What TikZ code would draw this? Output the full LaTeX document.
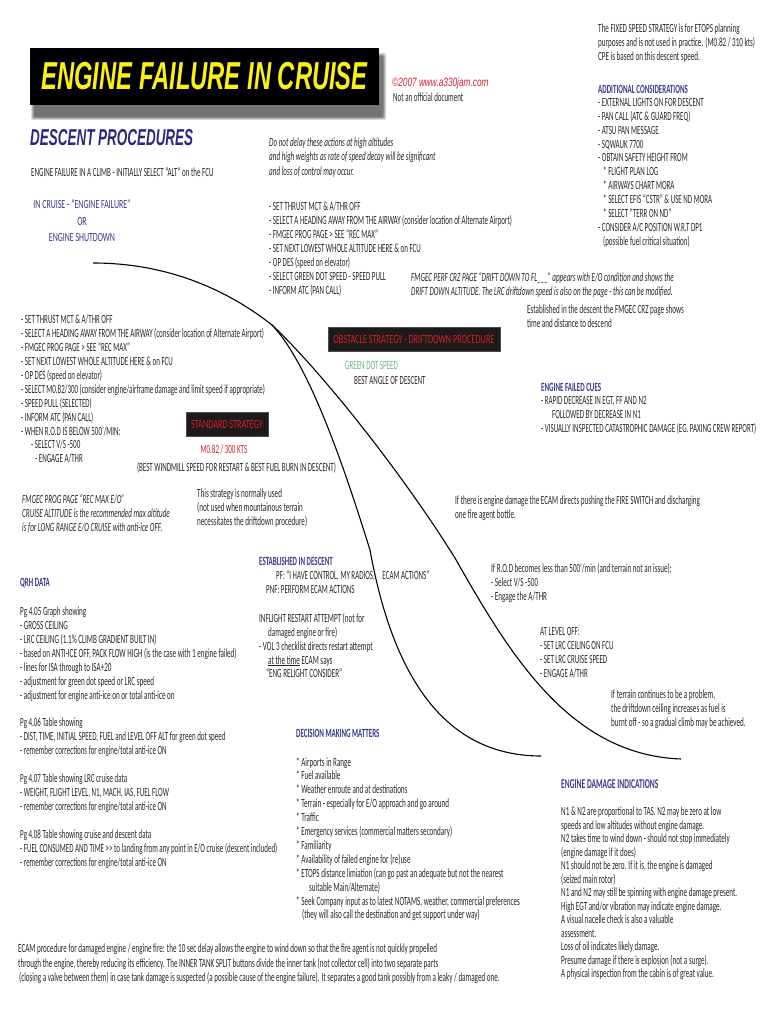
\documentclass[tikz,border=0pt]{standalone}
\usepackage{fontspec}
\usepackage{tikz}
\setmainfont[FakeStretch=0.558]{Carlito}
\newfontfamily\lowerfont[FakeStretch=0.568]{Carlito}
\newfontfamily\strategyfont[FakeStretch=0.66]{Carlito}
\newfontfamily\cruisefont[FakeStretch=0.63]{Carlito}
\newfontfamily\titlefont[FakeStretch=0.61]{Liberation Sans}
\newfontfamily\headfont[FakeStretch=0.585]{Liberation Sans}
\newfontfamily\webfont[FakeStretch=0.69]{Liberation Sans}
\definecolor{navyhead}{RGB}{40,40,130}
\definecolor{bluetxt}{RGB}{55,55,140}
\definecolor{redtxt}{RGB}{215,30,45}
\definecolor{greentxt}{RGB}{110,180,135}
\definecolor{boxblack}{RGB}{30,26,26}
\definecolor{titleyellow}{RGB}{250,240,20}
\tikzset{
    txt/.style={anchor=north west, inner sep=0pt, align=left, text=black!85, font=\fontsize{12.5}{13.9}\selectfont},
    lowtxt/.style={txt, font=\lowerfont\fontsize{12.5}{13.9}\selectfont},
    itxt/.style={txt, font=\lowerfont\itshape\fontsize{12.5}{14.1}\selectfont},
    txtc/.style={txt, anchor=center, align=center},
    blue head/.style={txt, text=bluetxt, font=\bfseries\fontsize{12.5}{13.9}\selectfont},
    strategy/.style={fill=boxblack, draw=black!70, text=redtxt, inner sep=0pt, minimum height=24pt, font=\strategyfont\fontsize{12.5}{14}\selectfont},
    curve/.style={line width=1.1pt, black}
}

\begin{document}
\begin{tikzpicture}[x=1pt, y=-1pt]
    \useasboundingbox (0,0) rectangle (768,1024);

    % title banner
    \foreach \k/\o in {3/0.2, 2/0.25, 1/0.3, 0/0.35}
        \fill[black!75, opacity=\o, rounded corners=2pt] (34-\k,56-\k) rectangle (383+\k,117+\k);
    \node[fill=black, inner sep=0pt, minimum width=349pt, minimum height=57pt, text=titleyellow] (title) at (204.5,76.5)
        {\titlefont\bfseries\itshape\fontsize{39}{39}\selectfont ENGINE FAILURE IN CRUISE};
    \node[txt, anchor=west, text=redtxt] (web) at (392,83) {\webfont\itshape\fontsize{12}{14}\selectfont ©2007 www.a330jam.com};
    \node[txt] (official) at (393,93) {Not an official document};

    \node[txt, anchor=north west, text=navyhead] (descent) at (30,129)
        {\headfont\bfseries\itshape\fontsize{23}{23}\selectfont DESCENT PROCEDURES};
    \node[txt] (climb) at (31,167) {ENGINE FAILURE IN A CLIMB - INITIALLY SELECT “ALT” on the FCU};
    \node[txtc, text=bluetxt, font=\cruisefont\fontsize{12.5}{16.5}\selectfont] (cruise) at (82,221) {IN CRUISE - “ENGINE FAILURE”\\OR\\ENGINE SHUTDOWN};

    % top right notes
    \node[lowtxt] (fixed) at (598,24) {The FIXED SPEED STRATEGY is for ETOPS planning\\purposes and is not used in practice. (M0.82 / 310 kts)\\CPE is based on this descent speed.};
    \node[blue head] (addhead) at (598,85) {ADDITIONAL CONSIDERATIONS};
    \node[txt] (additional) at (598,98) {- EXTERNAL LIGHTS ON FOR DESCENT\\
        - PAN CALL (ATC \& GUARD FREQ)\\
        - ATSU PAN MESSAGE\\
        - SQWAUK 7700\\
        - OBTAIN SAFETY HEIGHT FROM\\
        \hspace*{5pt}* FLIGHT PLAN LOG\\
        \hspace*{5pt}* AIRWAYS CHART MORA\\
        \hspace*{5pt}* SELECT EFIS “CSTR” \& USE ND MORA\\
        \hspace*{5pt}* SELECT “TERR ON ND”\\
        - CONSIDER A/C POSITION W.R.T DP1\\
        \hspace*{5pt}(possible fuel critical situation)};

    % centre top
    \node[itxt] (nodelay) at (269,138) {Do not delay these actions at high altitudes\\and high weights as rate of speed decay will be significant\\and loss of control may occur.};
    \node[txt] (driftlist) at (269,202) {- SET THRUST MCT \& A/THR OFF\\
        - SELECT A HEADING AWAY FROM THE AIRWAY (consider location of Alternate Airport)\\
        - FMGEC PROG PAGE > SEE “REC MAX”\\
        - SET NEXT LOWEST WHOLE ALTITUDE HERE \& on FCU\\
        - OP DES (speed on elevator)\\
        - SELECT GREEN DOT SPEED - SPEED PULL\\
        - INFORM ATC (PAN CALL)};
    \node[itxt] (perfcrz) at (411,272) {FMGEC PERF CRZ PAGE “DRIFT DOWN TO FL\_\_\_” appears with E/O condition and shows the\\DRIFT DOWN ALTITUDE. The LRC driftdown speed is also on the page - this can be modified.};
    \node[lowtxt] (established) at (527,305) {Established in the descent the FMGEC CRZ page shows\\time and distance to descend};

    % obstacle strategy
    \node[strategy, minimum width=172pt] (obstacle) at (414,339) {OBSTACLE STRATEGY - DRIFTDOWN PROCEDURE};
    \node[txt, text=greentxt] (green) at (345,361) {GREEN DOT SPEED};
    \node[txt] (angle) at (354,376) {BEST ANGLE OF DESCENT};
    \node[blue head] (cueshead) at (541,383) {ENGINE FAILED CUES};
    \node[txt] (cues) at (541,396) {- RAPID DECREASE IN EGT, FF AND N2\\
        \hspace*{11pt}FOLLOWED BY DECREASE IN N1\\
        - VISUALLY INSPECTED CATASTROPHIC DAMAGE (EG. PAXING CREW REPORT)};

    % standard strategy
    \node[txt] (stdlist) at (21,315) {- SET THRUST MCT \& A/THR OFF\\
        - SELECT A HEADING AWAY FROM THE AIRWAY (consider location of Alternate Airport)\\
        - FMGEC PROG PAGE > SEE “REC MAX”\\
        - SET NEXT LOWEST WHOLE ALTITUDE HERE \& on FCU\\
        - OP DES (speed on elevator)\\
        - SELECT M0.82/300 (consider engine/airframe damage and limit speed if appropriate)\\
        - SPEED PULL (SELECTED)\\
        - INFORM ATC (PAN CALL)\\
        - WHEN R.O.D IS BELOW 500’/MIN:\\
        \hspace*{10pt}- SELECT V/S -500\\
        \hspace*{14pt}- ENGAGE A/THR};
    \node[strategy, minimum width=82pt] (standard) at (227,424.5) {STANDARD STRATEGY};
    \node[txtc, text=redtxt] (mach) at (224,449) {M0.82 / 300 KTS};
    \node[txtc] (windmill) at (236.5,468) {(BEST WINDMILL SPEED FOR RESTART \& BEST FUEL BURN IN DESCENT)};
    \node[itxt] (recmax) at (22,494) {FMGEC PROG PAGE “REC MAX E/O”\\CRUISE ALTITUDE is the recommended max altitude\\is for LONG RANGE E/O CRUISE with anti-ice OFF.};
    \node[lowtxt] (normally) at (197,489) {This strategy is normally used\\(not used when mountainous terrain\\necessitates the driftdown procedure)};

    % middle right
    \node[lowtxt] (damage) at (455,496) {If there is engine damage the ECAM directs pushing the FIRE SWITCH and discharging\\one fire agent bottle.};
    \node[lowtxt] (rod) at (491,563) {If R.O.D becomes less than 500’/min (and terrain not an issue);\\- Select V/S -500\\- Engage the A/THR};
    \node[txt] (leveloff) at (540,627) {AT LEVEL OFF:\\- SET LRC CEILING ON FCU\\- SET LRC CRUISE SPEED\\- ENGAGE A/THR};
    \node[lowtxt] (terrain) at (611,690) {If terrain continues to be a problem,\\the driftdown ceiling increases as fuel is\\burnt off - so a gradual climb may be achieved.};

    % middle
    \node[blue head] (esthead) at (259,557) {ESTABLISHED IN DESCENT};
    \node[txt] (pf) at (259,570) {\hspace*{17pt}PF: “I HAVE CONTROL, MY RADIOS, \hspace*{6pt}ECAM ACTIONS”\\\hspace*{7pt}PNF: PERFORM ECAM ACTIONS};
    \node[lowtxt] (restart) at (259,613) {INFLIGHT RESTART ATTEMPT (not for\\
        \hspace*{9pt}damaged engine or fire)\\
        - VOL 3 checklist directs restart attempt\\
        \hspace*{9pt}\underline{at the time} ECAM says\\
        \hspace*{7pt}“ENG RELIGHT CONSIDER”};

    % QRH data
    \node[blue head] (qrhhead) at (20,578) {QRH DATA};
    \node[lowtxt] (pgone) at (20,607) {Pg 4.05 Graph showing\\
        - GROSS CEILING\\
        - LRC CEILING (1.1\% CLIMB GRADIENT BUILT IN)\\
        - based on ANTI-ICE OFF, PACK FLOW HIGH (is the case with 1 engine failed)\\
        - lines for ISA through to ISA+20\\
        - adjustment for green dot speed or LRC speed\\
        - adjustment for engine anti-ice on or total anti-ice on};
    \node[txt] (pgtwo) at (20,718) {Pg 4.06 Table showing\\
        - DIST, TIME, INITIAL SPEED, FUEL and LEVEL OFF ALT for green dot speed\\
        - remember corrections for engine/total anti-ice ON};
    \node[txt] (pgthree) at (20,774) {Pg 4.07 Table showing LRC cruise data\\
        - WEIGHT, FLIGHT LEVEL, N1, MACH, IAS, FUEL FLOW\\
        - remember corrections for engine/total anti-ice ON};
    \node[txt] (pgfour) at (20,830) {Pg 4.08 Table showing cruise and descent data\\
        - FUEL CONSUMED AND TIME >{}> to landing from any point in E/O cruise (descent included)\\
        - remember corrections for engine/total anti-ice ON};

    % decision making
    \node[blue head] (dechead) at (296,729) {DECISION MAKING MATTERS};
    \node[lowtxt] (decision) at (296,757) {* Airports in Range\\
        * Fuel available\\
        * Weather enroute and at destinations\\
        * Terrain - especially for E/O approach and go around\\
        * Traffic\\
        * Emergency services (commercial matters secondary)\\
        * Familiarity\\
        * Availability of failed engine for (re)use\\
        * ETOPS distance limiation (can go past an adequate but not the nearest\\
        \hspace*{13pt}suitable Main/Alternate)\\
        * Seek Company input as to latest NOTAMS, weather, commercial preferences\\
        \hspace*{6pt}(they will also call the destination and get support under way)};

    % engine damage
    \node[blue head, font=\bfseries\fontsize{13.5}{14}\selectfont] (enghead) at (561,779) {ENGINE DAMAGE INDICATIONS};
    \node[lowtxt, font=\lowerfont\fontsize{12.5}{13.5}\selectfont] (indications) at (561,807) {N1 \& N2 are proportional to TAS. N2 may be zero at low\\
        speeds and low altitudes without engine damage.\\
        N2 takes time to wind down - should not stop immediately\\
        (engine damage if it does)\\
        N1 should not be zero. If it is, the engine is damaged\\
        (seized main rotor)\\
        N1 and N2 may still be spinning with engine damage present.\\
        High EGT and/or vibration may indicate engine damage.\\
        A visual nacelle check is also a valuable\\
        assessment.\\
        Loss of oil indicates likely damage.\\
        Presume damage if there is explosion (not a surge).\\
        A physical inspection from the cabin is of great value.};

    % bottom note
    \node[lowtxt, font=\lowerfont\fontsize{12.5}{14.5}\selectfont] (ecam) at (18,944) {ECAM procedure for damaged engine / engine fire: the 10 sec delay allows the engine to wind down so that the fire agent is not quickly propelled\\
        through the engine, thereby reducing its efficiency. The INNER TANK SPLIT buttons divide the inner tank (not collector cell) into two separate parts\\
        \hspace*{1pt}(closing a valve between them) in case tank damage is suspected (a possible cause of the engine failure). It separates a good tank possibly from a leaky / damaged one.};

    % descent profile
    \coordinate (cruisepoint) at (93,263);
    \coordinate (split) at (272,325);
    \coordinate (stdmid) at (370,550);
    \coordinate (stdend) at (541,756);
    \coordinate (obsmid) at (455,558);
    \coordinate (obsend) at (681,759);
    \draw[curve] (cruisepoint) .. controls (165,263) and (225,288) .. (split);
    \draw[curve] (split) .. controls (310,365) and (345,470) .. (stdmid)
        .. controls (390,660) and (435,756) .. (stdend);
    \draw[curve] (split) .. controls (320,370) and (400,470) .. (obsmid)
        .. controls (510,655) and (570,755) .. (obsend);
\end{tikzpicture}
\end{document}
